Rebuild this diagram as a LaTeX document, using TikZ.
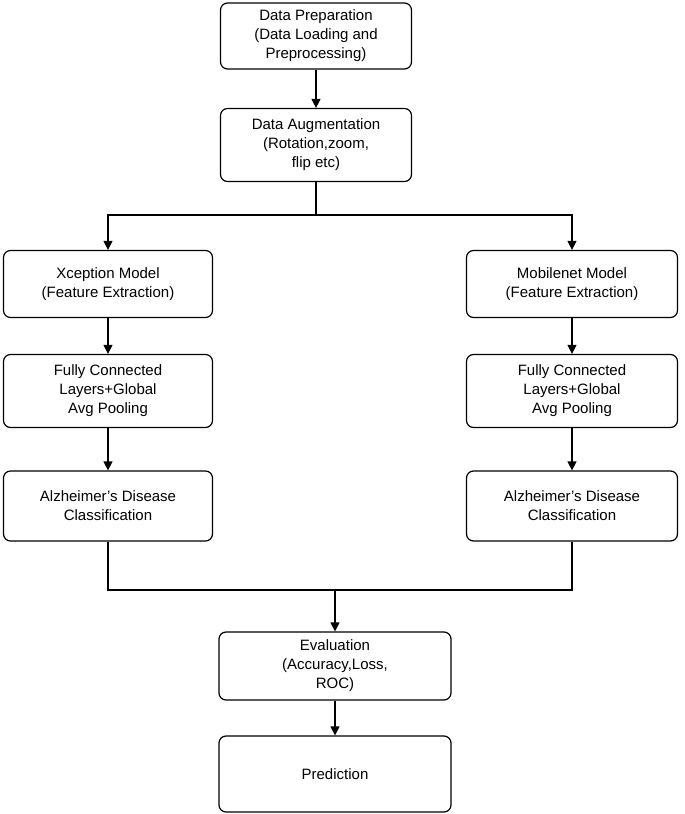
\documentclass[tikz,border=0pt]{standalone}
\usepackage{fontspec}
\setmainfont{Liberation Sans}
\usetikzlibrary{arrows.meta}
\begin{document}
\begin{tikzpicture}[x=1pt,y=-1pt,
 box/.style={draw,line width=1.2pt,rounded corners=7pt,align=center,font=\fontsize{15}{19}\selectfont,inner sep=0pt},
 arr/.style={-{Triangle[length=9pt,width=9pt]},line width=1.2pt}]
\useasboundingbox (0,0) rectangle (685,814);
\node[box,minimum width=191pt,minimum height=66pt] (a) at (316,36) {Data Preparation\\(Data Loading and\\Preprocessing)};
\node[box,minimum width=191pt,minimum height=73pt] (b) at (316,145) {Data Augmentation\\(Rotation,zoom,\\flip etc)};
\node[box,minimum width=209pt,minimum height=67pt] (x1) at (108,284) {Xception Model\\(Feature Extraction)};
\node[box,minimum width=211pt,minimum height=67pt] (m1) at (572,284) {Mobilenet Model\\(Feature Extraction)};
\node[box,minimum width=209pt,minimum height=73pt] (x2) at (108,391) {Fully Connected\\Layers+Global\\Avg Pooling};
\node[box,minimum width=211pt,minimum height=73pt] (m2) at (572,391) {Fully Connected\\Layers+Global\\Avg Pooling};
\node[box,minimum width=209pt,minimum height=70pt] (x3) at (108,506) {Alzheimer's Disease\\Classification};
\node[box,minimum width=211pt,minimum height=70pt] (m3) at (572,506) {Alzheimer's Disease\\Classification};
\node[box,minimum width=232pt,minimum height=68pt] (e) at (335,666) {Evaluation\\(Accuracy,Loss,\\ROC)};
\node[box,minimum width=232pt,minimum height=76pt] (p) at (335,774) {Prediction};
\coordinate (s) at (316,215);
\coordinate (j) at (335,590);
\draw[arr] (a) -- (b);
\draw[line width=1.2pt] (b) -- (s);
\draw[arr] (s) -| (x1);
\draw[arr] (s) -| (m1);
\draw[arr] (x1) -- (x2);
\draw[arr] (x2) -- (x3);
\draw[arr] (m1) -- (m2);
\draw[arr] (m2) -- (m3);
\draw[line width=1.2pt] (x3) |- (j) -| (m3);
\draw[arr] (j) -- (e);
\draw[arr] (e) -- (p);
\end{tikzpicture}
\end{document}
